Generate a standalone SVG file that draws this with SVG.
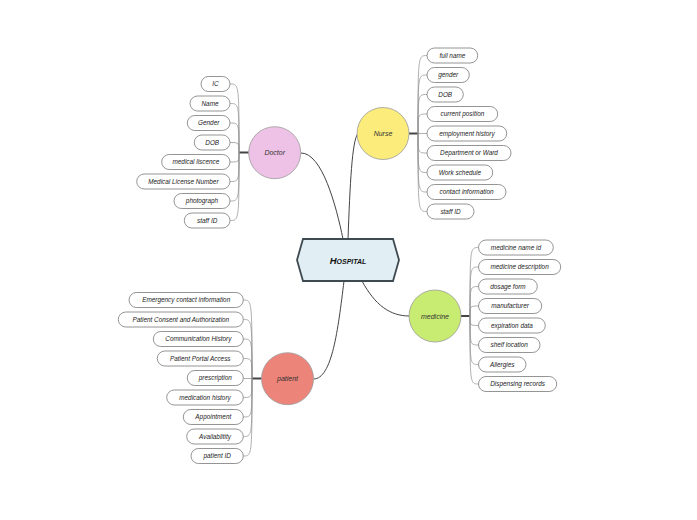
<svg xmlns="http://www.w3.org/2000/svg" width="697" height="520" viewBox="0 0 697 520">
<style>
.bg{fill:#ffffff}
.box{fill:#ffffff;stroke:#7a7a7a;stroke-width:0.8}
.bt{font-family:"Liberation Sans",Arial,sans-serif;font-style:italic;font-size:6.4px;fill:#222;text-anchor:middle}
.ct{font-family:"Liberation Sans",Arial,sans-serif;font-style:italic;font-size:7px;fill:#333;text-anchor:middle}
.circ{stroke:#9a9a9a;stroke-width:0.8}
.main{fill:none;stroke:#444;stroke-width:1}
.trunk{fill:none;stroke:#444;stroke-width:2}
.sub{fill:none;stroke:#8c8c8c;stroke-width:0.7}
</style>
<rect class="bg" x="0" y="0" width="697" height="520"/>
<g id="connectors">
<path class="main" d="M301,153 C322,153 336,205 343,239"/>
<path class="main" d="M348,239 C350,185 352,140 358,133.5"/>
<path class="main" d="M344,281 C338,330 332,379 313.5,379"/>
<path class="main" d="M362,281 C375,305 390,316 409.3,316"/>
<path class="trunk" d="M248.7,152.5 L239,152.5"/>
<path class="trunk" d="M408.7,133.5 L418,133.5"/>
<path class="trunk" d="M461,316 L470,316"/>
<path class="trunk" d="M261.7,378.5 L252,378.5"/>
<g id="doctor-links">
<path class="sub" d="M239,152.5 C239,84 239,84 230,84"/>
<path class="sub" d="M239,152.5 C239,103.5 239,103.5 230,103.5"/>
<path class="sub" d="M239,152.5 C239,123 239,123 230,123"/>
<path class="sub" d="M239,152.5 C239,142.5 239,142.5 230,142.5"/>
<path class="sub" d="M239,152.5 C239,162 239,162 230,162"/>
<path class="sub" d="M239,152.5 C239,181.5 239,181.5 230,181.5"/>
<path class="sub" d="M239,152.5 C239,201 239,201 230,201"/>
<path class="sub" d="M239,152.5 C239,220.5 239,220.5 230,220.5"/>
</g>
<g id="nurse-links">
<path class="sub" d="M418,133.5 C418,55.5 418,55.5 427,55.5"/>
<path class="sub" d="M418,133.5 C418,75 418,75 427,75"/>
<path class="sub" d="M418,133.5 C418,94.5 418,94.5 427,94.5"/>
<path class="sub" d="M418,133.5 C418,114 418,114 427,114"/>
<path class="sub" d="M418,133.5 L427,133.5"/>
<path class="sub" d="M418,133.5 C418,153 418,153 427,153"/>
<path class="sub" d="M418,133.5 C418,172.5 418,172.5 427,172.5"/>
<path class="sub" d="M418,133.5 C418,192 418,192 427,192"/>
<path class="sub" d="M418,133.5 C418,211.5 418,211.5 427,211.5"/>
</g>
<g id="medicine-links">
<path class="sub" d="M470,316 C470,247.5 470,247.5 478.5,247.5"/>
<path class="sub" d="M470,316 C470,267 470,267 478.5,267"/>
<path class="sub" d="M470,316 C470,286.5 470,286.5 478.5,286.5"/>
<path class="sub" d="M470,316 C470,306 470,306 478.5,306"/>
<path class="sub" d="M470,316 C470,325.5 470,325.5 478.5,325.5"/>
<path class="sub" d="M470,316 C470,345 470,345 478.5,345"/>
<path class="sub" d="M470,316 C470,364.5 470,364.5 478.5,364.5"/>
<path class="sub" d="M470,316 C470,384 470,384 478.5,384"/>
</g>
<g id="patient-links">
<path class="sub" d="M252,378.5 C252,300 252,300 243.3,300"/>
<path class="sub" d="M252,378.5 C252,319.5 252,319.5 243.3,319.5"/>
<path class="sub" d="M252,378.5 C252,339 252,339 243.3,339"/>
<path class="sub" d="M252,378.5 C252,358.5 252,358.5 243.3,358.5"/>
<path class="sub" d="M252,378.5 L243.3,378.5"/>
<path class="sub" d="M252,378.5 C252,397.5 252,397.5 243.3,397.5"/>
<path class="sub" d="M252,378.5 C252,417 252,417 243.3,417"/>
<path class="sub" d="M252,378.5 C252,436.5 252,436.5 243.3,436.5"/>
<path class="sub" d="M252,378.5 C252,456 252,456 243.3,456"/>
</g>
</g>
<g id="hospital">
<polygon points="303,239 393,239 399,260 393,281 303,281 297,260" fill="#e1eef4" stroke="#3f4a50" stroke-width="1.8"/>
<text x="348" y="263.5" font-family="Liberation Sans,Arial,sans-serif" font-size="9.5" font-weight="bold" font-style="italic" font-variant="small-caps" fill="#111" text-anchor="middle">Hospital</text>
</g>
<g id="doctor">
<circle class="circ" cx="274.7" cy="152.7" r="26" fill="#eec2e6"/>
<text class="ct" x="274.7" y="155.2">Doctor</text>
</g>
<g id="nurse">
<circle class="circ" cx="383" cy="133.5" r="26" fill="#fbec7c"/>
<text class="ct" x="383" y="136">Nurse</text>
</g>
<g id="medicine">
<circle class="circ" cx="435" cy="316" r="26" fill="#c8ec72"/>
<text class="ct" x="435" y="318.5">medicine</text>
</g>
<g id="patient">
<circle class="circ" cx="287.5" cy="378.7" r="26" fill="#ec8479"/>
<text class="ct" x="287.5" y="381.2">patient</text>
</g>
<g id="doctor-items">
<g id="d-ic"><rect class="box" x="201" y="76.5" width="29" height="15" rx="7.5"/><text class="bt" x="215.5" y="86.3">IC</text></g>
<g id="d-name"><rect class="box" x="190" y="96" width="40" height="15" rx="7.5"/><text class="bt" x="210" y="105.8">Name</text></g>
<g id="d-gender"><rect class="box" x="187.3" y="115.5" width="42.7" height="15" rx="7.5"/><text class="bt" x="208.7" y="125.3">Gender</text></g>
<g id="d-dob"><rect class="box" x="194.3" y="135" width="35.7" height="15" rx="7.5"/><text class="bt" x="212.2" y="144.8">DOB</text></g>
<g id="d-lic"><rect class="box" x="161.7" y="154.5" width="68.3" height="15" rx="7.5"/><text class="bt" x="195.9" y="164.3">medical liscence</text></g>
<g id="d-licnum"><rect class="box" x="136.7" y="174" width="93.3" height="15" rx="7.5"/><text class="bt" x="183.4" y="183.8">Medical License Number</text></g>
<g id="d-photo"><rect class="box" x="174" y="193.5" width="56" height="15" rx="7.5"/><text class="bt" x="202" y="203.3">photograph</text></g>
<g id="d-staff"><rect class="box" x="184.3" y="213" width="45.7" height="15" rx="7.5"/><text class="bt" x="207.2" y="222.8">staff ID</text></g>
</g>
<g id="nurse-items">
<g id="n-full"><rect class="box" x="427" y="48" width="50.7" height="15" rx="7.5"/><text class="bt" x="452.4" y="57.8">full name</text></g>
<g id="n-gender"><rect class="box" x="427" y="67.5" width="42.3" height="15" rx="7.5"/><text class="bt" x="448.2" y="77.3">gender</text></g>
<g id="n-dob"><rect class="box" x="427" y="87" width="36.3" height="15" rx="7.5"/><text class="bt" x="445.2" y="96.8">DOB</text></g>
<g id="n-pos"><rect class="box" x="427" y="106.5" width="70.7" height="15" rx="7.5"/><text class="bt" x="462.4" y="116.3">current position</text></g>
<g id="n-emp"><rect class="box" x="427" y="126" width="79.7" height="15" rx="7.5"/><text class="bt" x="466.9" y="135.8">employment history</text></g>
<g id="n-dept"><rect class="box" x="427" y="145.5" width="84" height="15" rx="7.5"/><text class="bt" x="469" y="155.3">Department or Ward</text></g>
<g id="n-work"><rect class="box" x="427" y="165" width="65.7" height="15" rx="7.5"/><text class="bt" x="459.9" y="174.8">Work schedule</text></g>
<g id="n-contact"><rect class="box" x="427" y="184.5" width="79" height="15" rx="7.5"/><text class="bt" x="466.5" y="194.3">contact information</text></g>
<g id="n-staff"><rect class="box" x="427" y="204" width="47" height="15" rx="7.5"/><text class="bt" x="450.5" y="213.8">staff ID</text></g>
</g>
<g id="medicine-items">
<g id="m-name"><rect class="box" x="478.5" y="240" width="74.8" height="15" rx="7.5"/><text class="bt" x="515.9" y="249.8">medicine name id</text></g>
<g id="m-desc"><rect class="box" x="478.5" y="259.5" width="82.2" height="15" rx="7.5"/><text class="bt" x="519.6" y="269.3">medicine description</text></g>
<g id="m-dose"><rect class="box" x="478.5" y="279" width="58.8" height="15" rx="7.5"/><text class="bt" x="507.9" y="288.8">dosage form</text></g>
<g id="m-manu"><rect class="box" x="478.5" y="298.5" width="63.2" height="15" rx="7.5"/><text class="bt" x="510.1" y="308.3">manufacturer</text></g>
<g id="m-exp"><rect class="box" x="478.5" y="318" width="66.8" height="15" rx="7.5"/><text class="bt" x="511.9" y="327.8">expiration data</text></g>
<g id="m-shelf"><rect class="box" x="478.5" y="337.5" width="61.5" height="15" rx="7.5"/><text class="bt" x="509.2" y="347.3">shelf location</text></g>
<g id="m-allergy"><rect class="box" x="478.5" y="357" width="47.5" height="15" rx="7.5"/><text class="bt" x="502.2" y="366.8">Allergies</text></g>
<g id="m-disp"><rect class="box" x="478.5" y="376.5" width="78.2" height="15" rx="7.5"/><text class="bt" x="517.6" y="386.3">Dispensing records</text></g>
</g>
<g id="patient-items">
<g id="p-emerg"><rect class="box" x="129" y="292.5" width="114.3" height="15" rx="7.5"/><text class="bt" x="186.2" y="302.3">Emergency contact information</text></g>
<g id="p-consent"><rect class="box" x="118.3" y="312" width="125" height="15" rx="7.5"/><text class="bt" x="180.8" y="321.8">Patient Consent and Authorization</text></g>
<g id="p-comm"><rect class="box" x="153.3" y="331.5" width="90" height="15" rx="7.5"/><text class="bt" x="198.3" y="341.3">Communication History</text></g>
<g id="p-portal"><rect class="box" x="157.3" y="351" width="86" height="15" rx="7.5"/><text class="bt" x="200.3" y="360.8">Patient Portal Access</text></g>
<g id="p-presc"><rect class="box" x="187.3" y="370.5" width="56" height="15" rx="7.5"/><text class="bt" x="215.3" y="380.3">prescription</text></g>
<g id="p-medhist"><rect class="box" x="166.7" y="390" width="76.6" height="15" rx="7.5"/><text class="bt" x="205" y="399.8">medication history</text></g>
<g id="p-appt"><rect class="box" x="183.3" y="409.5" width="60" height="15" rx="7.5"/><text class="bt" x="213.3" y="419.3">Appointment</text></g>
<g id="p-avail"><rect class="box" x="186.7" y="429" width="56.6" height="15" rx="7.5"/><text class="bt" x="215" y="438.8">Availablitity</text></g>
<g id="p-id"><rect class="box" x="191" y="448.5" width="52.3" height="15" rx="7.5"/><text class="bt" x="217.2" y="458.3">patient ID</text></g>
</g>
</svg>
